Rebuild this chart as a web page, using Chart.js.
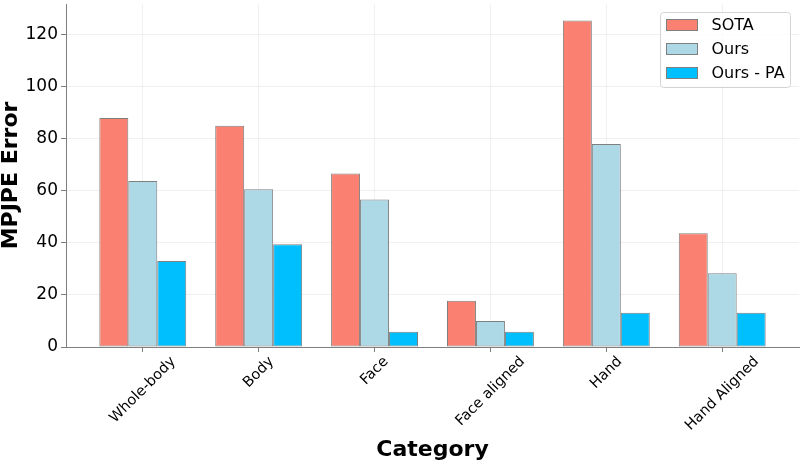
<!DOCTYPE html>
<html>
<head>
<meta charset="utf-8">
<script src="https://cdn.jsdelivr.net/npm/chart.js@4.4.1/dist/chart.umd.min.js"></script>
<style>
    html, body { margin: 0; padding: 0; background: #fff; }
    #wrap { width: 804px; height: 462px; }
</style>
</head>
<body>
<div id="wrap"><canvas id="chart" width="804" height="462"></canvas></div>
<script>
// MPJPE error per body part - grouped bars

const categories = ['Whole-body', 'Body', 'Face', 'Face aligned', 'Hand', 'Hand Aligned'];
const seriesNames = ['SOTA', 'Ours', 'Ours - PA'];
const sotaValues = [88, 85, 66.7, 17.8, 125.5, 43.7];
const oursValues = [63.8, 60.6, 56.7, 10, 78, 28.3];
const oursPaValues = [33, 39.5, 5.9, 5.9, 13.2, 13.2];
const yTicks = [0, 20, 40, 60, 80, 100, 120];

const FONT = "'DejaVu Sans', 'Liberation Sans', sans-serif";
const EDGE = '#7f7f7f';
const colors = ['#fa8072', '#add8e6', '#00bfff'];

/**
 * Turn a value list into {x, y} points on the numeric index axis
 */
function toPoints(values) {
    return values.map((v, i) => ({ x: i, y: v }));
}

/**
 * Draws rotated category labels, axis titles and the legend box
 */
const decorPlugin = {
    id: 'decor',
    afterDraw(chart) {
        const ctx = chart.ctx;
        const area = chart.chartArea;
        const xScale = chart.scales.x;

        ctx.save();
        ctx.fillStyle = '#000';

        // category labels, rotated 45deg and centred on the tick
        ctx.font = `14.5px ${FONT}`;
        ctx.textAlign = 'center';
        ctx.textBaseline = 'middle';
        categories.forEach((label, i) => {
            const x = xScale.getPixelForValue(i);
            const w = ctx.measureText(label).width;
            const h = 14.5 * 1.05;
            const boxH = (w + h) * Math.SQRT1_2;
            const cy = area.bottom + 7 + boxH / 2;
            ctx.save();
            ctx.translate(x, cy);
            ctx.rotate(-Math.PI / 4);
            ctx.fillText(label, 0, 0);
            ctx.restore();
        });

        // axis titles
        ctx.font = `bold 22px ${FONT}`;
        ctx.textAlign = 'center';
        ctx.textBaseline = 'alphabetic';
        ctx.fillText('Category', (area.left + area.right) / 2, 456);

        ctx.save();
        ctx.translate(17, (area.top + area.bottom) / 2);
        ctx.rotate(-Math.PI / 2);
        ctx.fillText('MPJPE Error', 0, 0);
        ctx.restore();

        // legend
        const lx = 660.5, ly = 12.5, lw = 130, lh = 75;
        ctx.beginPath();
        ctx.roundRect(lx, ly, lw, lh, 3);
        ctx.fillStyle = 'rgba(255,255,255,0.8)';
        ctx.fill();
        ctx.strokeStyle = '#d4d4d4';
        ctx.lineWidth = 1;
        ctx.stroke();

        ctx.font = `16px ${FONT}`;
        ctx.textAlign = 'left';
        ctx.textBaseline = 'middle';
        seriesNames.forEach((name, i) => {
            const cy = 25.3 + i * 24;
            ctx.fillStyle = colors[i];
            ctx.fillRect(666.5, Math.round(cy - 6) + 0.5, 31, 11);
            ctx.strokeStyle = EDGE;
            ctx.strokeRect(666.5, Math.round(cy - 6) + 0.5, 31, 11);
            ctx.fillStyle = '#000';
            ctx.fillText(name, 711.5, cy + 1);
        });

        ctx.restore();
    }
};

const datasets = [sotaValues, oursValues, oursPaValues].map((values, i) => ({
    label: seriesNames[i],
    data: toPoints(values),
    backgroundColor: colors[i],
    borderColor: EDGE,
    borderWidth: 1,
    borderSkipped: false,
    categoryPercentage: 0.75,
    barPercentage: 1.0
}));

const ctx = document.getElementById('chart').getContext('2d');
new Chart(ctx, {
    type: 'bar',
    data: { datasets },
    options: {
        responsive: false,
        animation: false,
        layout: { padding: { top: 4, right: 5, left: 0, bottom: 0 } },
        plugins: {
            legend: { display: false },
            tooltip: { enabled: false }
        },
        scales: {
            x: {
                type: 'linear',
                min: -0.6625,
                max: 5.6625,
                offset: false,
                afterBuildTicks: (scale) => {
                    scale.ticks = categories.map((c, i) => ({ value: i }));
                },
                afterFit: (scale) => {
                    scale.height = 115;
                    scale.paddingLeft = 0;
                    scale.paddingRight = 0;
                },
                grid: {
                    offset: false,
                    color: 'rgba(0,0,0,0.06)',
                    tickColor: EDGE,
                    tickLength: 5,
                    drawTicks: true
                },
                border: { color: EDGE, width: 1 },
                ticks: { display: false }
            },
            y: {
                min: 0,
                max: 131.8,
                afterBuildTicks: (scale) => {
                    scale.ticks = yTicks.map(v => ({ value: v }));
                },
                afterFit: (scale) => {
                    scale.width = 66;
                    scale.paddingTop = 0;
                    scale.paddingBottom = 0;
                },
                grid: {
                    color: 'rgba(0,0,0,0.06)',
                    tickColor: EDGE,
                    tickLength: 5
                },
                border: { color: EDGE, width: 1 },
                ticks: {
                    color: '#000',
                    padding: 3,
                    font: { family: FONT, size: 17 }
                }
            }
        }
    },
    plugins: [decorPlugin]
});
</script>
</body>
</html>
